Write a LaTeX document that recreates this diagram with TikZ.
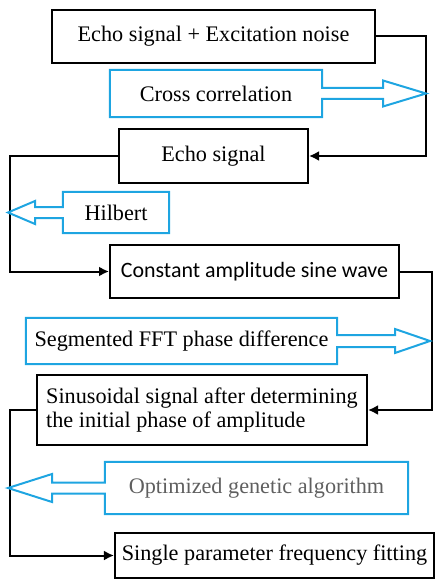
\documentclass[tikz,border=0pt]{standalone}
\usepackage{fontspec}
\setmainfont{Liberation Serif}
\newfontfamily\calibri{Carlito}
\usetikzlibrary{arrows.meta,calc}
\definecolor{lineblue}{RGB}{30,165,225}
\definecolor{textgray}{RGB}{95,95,95}
\begin{document}
\begin{tikzpicture}[x=1bp,y=1bp,
				every node/.style={inner sep=0pt,font=\fontsize{22.3}{25}\selectfont},
				stepbox/.style={draw,line width=2bp,minimum width=#1},
				toolbox/.style={minimum width=#1},
				flow/.style={line width=2bp,-{Latex[length=10bp,width=10bp]}},
				hollow/.style={draw=lineblue,line width=2bp,line join=miter}]
\useasboundingbox (0,0) rectangle (443,-587);
% main steps
\node[stepbox=323bp,minimum height=53bp] (noisy) at (213.5,-36.5) {Echo signal + Excitation noise};
\node[stepbox=189bp,minimum height=54bp] (echo) at (213.5,-156) {Echo signal};
\node[stepbox=289bp,minimum height=53bp,font=\calibri\fontsize{22}{25}\selectfont] (sine) at (254.5,-271.5) {Constant amplitude sine wave};
\node[stepbox=330bp,minimum height=70bp,align=left] (sinus) at (202,-410) {Sinusoidal signal after determining\\the initial phase of amplitude};
\node[stepbox=319bp,minimum height=45bp] (fit) at (274.5,-555.5) {Single parameter frequency fitting};
% methods
\node[toolbox=212bp,minimum height=47bp] (cross) at (216,-93.5) {Cross correlation};
\node[toolbox=106bp,minimum height=41bp] (hilbert) at (116,-212.5) {Hilbert};
\node[toolbox=311bp,minimum height=46bp] (fft) at (181.5,-341) {Segmented FFT phase difference};
\node[toolbox=303bp,minimum height=52bp,text=textgray] (ga) at (256.5,-488) {Optimized genetic algorithm};
% routing lines
\coordinate (r1) at (426,0);
\coordinate (r2) at (432,0);
\coordinate (l1) at (10,0);
\draw[flow] (noisy.east) -- (noisy.east -| r1) |- (echo.east);
\draw[flow] (echo.west) -- (echo.west -| l1) |- (sine.west);
\draw[flow] (sine.east) -- (sine.east -| r2) |- (sinus.east);
\draw[flow] (sinus.west) -- (sinus.west -| l1) |- (fit.west);
% hollow arrows
\coordinate (t1) at (cross.east -| r1);
\draw[hollow] ([yshift=5.5bp]cross.east) |- (cross.north west) |- (cross.south east)
	-- ([yshift=-5.5bp]cross.east) -- ([xshift=-43bp,yshift=-5.5bp]t1) -- ([xshift=-43bp,yshift=-13bp]t1)
	-- (t1) -- ([xshift=-43bp,yshift=13bp]t1) -- ([xshift=-43bp,yshift=5.5bp]t1) -- cycle;
\coordinate (t2) at ([xshift=-2bp]hilbert.west -| l1);
\draw[hollow] ([yshift=5.5bp]hilbert.west) |- (hilbert.north east) |- (hilbert.south west)
	-- ([yshift=-5.5bp]hilbert.west) -- ([xshift=27bp,yshift=-5.5bp]t2) -- ([xshift=27bp,yshift=-11.5bp]t2)
	-- (t2) -- ([xshift=27bp,yshift=11.5bp]t2) -- ([xshift=27bp,yshift=5.5bp]t2) -- cycle;
\coordinate (t3) at ([xshift=-2bp]fft.east -| r2);
\draw[hollow] ([yshift=6bp]fft.east) |- (fft.north west) |- (fft.south east)
	-- ([yshift=-6bp]fft.east) -- ([xshift=-35bp,yshift=-6bp]t3) -- ([xshift=-35bp,yshift=-12bp]t3)
	-- (t3) -- ([xshift=-35bp,yshift=12bp]t3) -- ([xshift=-35bp,yshift=6bp]t3) -- cycle;
\coordinate (t4) at ([xshift=-2bp]ga.west -| l1);
\draw[hollow] ([yshift=5.5bp]ga.west) |- (ga.north east) |- (ga.south west)
	-- ([yshift=-5.5bp]ga.west) -- ([xshift=44bp,yshift=-5.5bp]t4) -- ([xshift=44bp,yshift=-14bp]t4)
	-- (t4) -- ([xshift=44bp,yshift=14bp]t4) -- ([xshift=44bp,yshift=5.5bp]t4) -- cycle;
\end{tikzpicture}
\end{document}
